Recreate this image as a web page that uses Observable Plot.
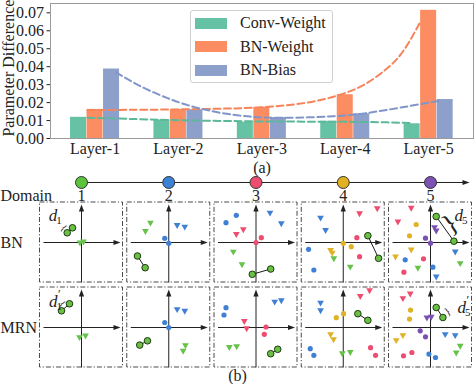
<!DOCTYPE html>
<html><head><meta charset="utf-8">
<script src="https://cdn.jsdelivr.net/npm/d3@7"></script>
<script src="https://cdn.jsdelivr.net/npm/@observablehq/plot@0.6"></script>
<style>
html,body{margin:0;padding:0;background:#fff;}
#wrap{position:relative;width:474px;height:384px;overflow:hidden;background:#fff;font-family:"Liberation Serif","Times New Roman",serif;}
#wrap svg{display:block;}
#wrap svg, #wrap svg text{font-family:"Liberation Serif","Times New Roman",serif !important;}
.legend{position:absolute;left:190px;top:10px;width:141px;height:71px;border:1px solid #d0d0d0;border-radius:3px;background:rgba(255,255,255,0.85);}
.legend .row{position:absolute;left:4px;height:16px;display:flex;align-items:center;font-size:16px;color:#222;white-space:nowrap;}
.legend .sw{width:32px;height:11px;margin-right:13px;}
</style></head><body><div id="wrap"></div>
<script>
const FONT = '"Liberation Serif","Times New Roman",serif';

// ---------------- (a) data ----------------
const layers = ["Layer-1","Layer-2","Layer-3","Layer-4","Layer-5"];
const series = ["Conv-Weight","BN-Weight","BN-Bias"];
const seriesColors = ["#66c2a5","#fc8d62","#8da0cb"];
const trendColors = ["#5cb898","#f5845a","#8295c8"];
const convWeight = [0.0118,0.0103,0.0090,0.0096,0.0082];
const bnWeight   = [0.0162,0.0162,0.0174,0.0244,0.0714];
const bnBias     = [0.0387,0.0160,0.0117,0.0138,0.0217];
const yTicks = [0,0.01,0.02,0.03,0.04,0.05,0.06,0.07];
const yLabel = "Parameter Difference";
// dashed trend curves: [layer position, value]
const convTrend = [[-0.09,0.0116],[0.5,0.0108],[1,0.0102],[1.5,0.0098],[2,0.0095],[2.5,0.0094],[3,0.0093],[3.5,0.0090],[3.78,0.0086]];
const bnWeightTrend = [[-0.09,0.0158],[0.5,0.0160],[1,0.0162],[1.5,0.0166],[2,0.0174],[2.5,0.0197],[2.86,0.0233],[3.2,0.0293],[3.5,0.0390],[3.7,0.0490],[3.89,0.0640]];
const bnBiasTrend = [[0.25,0.0369],[0.58,0.0283],[0.87,0.0225],[1.11,0.0186],[1.47,0.0146],[1.86,0.0122],[2.26,0.0115],[2.86,0.0124],[3.26,0.0142],[3.66,0.0172],[4.15,0.0212]];

// ---------------- (b) data ----------------
const domains = [1,2,3,4,5];
const domainColors = ["#5cc43c","#3b82d6","#ef4d6f","#e2b122","#7d52b5"];
const rowNames = ["BN","MRN"];
const rowY = [0,-1];
const pointColors = {g:"#66c24a", b:"#3f80d4", p:"#ee4c70", y:"#e0b225", v:"#7b50b3"};
// [panel, colour, shape (c circle / t triangle), dx, dy] (offsets inside a panel)
const bnPoints = [
 [1,"g","t",-1.5,0],[1,"g","t",2,1],
 [2,"g","t",-18.3,19.8],[2,"g","t",-23.3,11.5],[2,"b","t",8.4,17.5],[2,"b","t",16,15.8],[2,"b","c",-4,4.2],[2,"b","c",0,-0.8],
 [3,"b","c",-30,19.8],[3,"b","c",-19.7,27.2],[3,"p","t",-19.7,8.5],[3,"p","t",-12.7,13.2],[3,"b","t",14,29.8],[3,"b","t",25.3,19.2],[3,"p","c",5.3,4.8],[3,"p","c",0,0],[3,"g","t",-22.7,-9.2],[3,"g","t",-14,-21.8],
 [4,"b","t",-22.7,24.8],[4,"b","t",-17.7,12.5],[4,"p","t",16.3,29.2],[4,"p","t",34,34.2],[4,"p","c",13.6,4.8],[4,"p","c",16.3,-14.2],[4,"y","c",0,-0.8],[4,"y","c",8,-4.2],[4,"b","c",-34.7,-6.8],[4,"b","c",-29.4,-27.5],[4,"y","t",-12.7,-7.5],[4,"y","t",-11,-10.2],[4,"g","t",-9.4,-15.8],[4,"g","t",7,-24.2],
 [5,"p","t",-19.3,34.7],[5,"p","t",-32.6,21],[5,"y","c",-14.3,18],[5,"y","c",-21,6.7],[5,"v","t",4,15.3],[5,"v","t",5.7,12],[5,"v","c",-5,4.3],[5,"v","c",0,-0.7],[5,"y","t",-35,-14],[5,"y","t",-19.3,-7],[5,"b","c",-25.3,-17.3],[5,"b","c",2.4,-24.7],[5,"p","c",-7,-16.3],[5,"p","c",-26.6,-29.7],[5,"g","t",-12.6,-25.3],[5,"g","t",29.7,-20.7],[5,"b","t",24.7,-9],[5,"b","t",5.7,-34]
];
const mrnPoints = [
 [1,"g","t",-2,-9.7],[1,"g","t",4,-8],
 [2,"b","t",8.4,18.4],[2,"b","t",16,16.7],[2,"b","c",-4,5],[2,"b","c",0,0],[2,"g","t",16.7,-17.6],[2,"g","t",14.4,-23.3],
 [3,"b","c",-30,19.8],[3,"b","c",-32,12.5],[3,"b","t",18.7,25.8],[3,"b","t",25.3,27.2],[3,"p","t",-11.7,6.5],[3,"p","t",-9.3,-0.8],[3,"p","c",10,0.5],[3,"p","c",8.3,-6.8],[3,"g","t",-26.7,-19.5],[3,"g","t",-19.3,-18.8],
 [4,"p","t",17,31.5],[4,"p","t",26.3,37.2],[4,"b","t",-22.7,24.8],[4,"b","t",-22.7,17.2],[4,"y","c",-7,9.8],[4,"y","c",0.3,13.8],[4,"y","t",-12.7,-6.8],[4,"y","t",-9.7,-11.8],[4,"b","c",-33,-21.2],[4,"b","c",-29.4,-27.8],[4,"g","t",-1,-25.8],[4,"g","t",7,-24.5],[4,"p","c",27.3,-20.2],[4,"p","c",32.3,-27.8],
 [5,"p","t",-27.6,29.4],[5,"p","t",-20.3,34],[5,"y","c",-20,17.4],[5,"y","c",-21,8.4],[5,"v","t",-3.6,10],[5,"v","t",0.7,10.7],[5,"v","c",-10.3,-3.3],[5,"v","c",-5,-9.3],[5,"y","t",-34.3,-12.6],[5,"y","t",-27.6,-7.6],[5,"b","t",14.7,-6.6],[5,"b","t",24.7,-7.6],[5,"p","c",-27,-28.3],[5,"p","c",-18.6,-25],[5,"b","c",-1.6,-26.6],[5,"b","c",5,-30],[5,"g","t",29.7,-18.3],[5,"g","t",25.7,-25]
];
// green pairs: [panel, row, dx1, dy1, dx2, dy2]
const pairs = [
 [1,0,-14.3,9.7,-9,14.7],[1,1,-20,16.7,-12,23.7],
 [2,0,-31.3,-13.5,-23.6,-25.2],[2,1,-29,-17.6,-21.3,-13.3],
 [3,0,-3.7,-31.8,14.7,-26.5],[3,1,14.7,-26.2,21.7,-21.8],
 [4,0,24.6,6.8,35.3,-15.8],[4,1,14.6,13.8,24.6,7.2],
 [5,0,5.7,26,23.4,1.3],[5,1,5.7,20,12.4,10]
];
// distance labels: [panel, row, dx, dy, subscript, prime]
const dLabels = [[1,0,-28.5,27.3,"1",false],[1,1,-28.2,26.2,"1",true],[5,0,28.2,27,"5",false],[5,1,31.2,20,"5",true]];
// braces: [panel,row,dx,dy,char,rotate,size]
const braces = [[1,0,-17.5,14.5,"{",45,10],[1,1,-19,23.5,"{",45,10],[5,0,19.5,18.5,"}",-35,27],[5,1,17,16,"}",-34,11]];

// ---------------- chart (a) ----------------
const seriesValues = [convWeight,bnWeight,bnBias];
const bars = [];
seriesValues.forEach((vals,s)=>vals.forEach((v,i)=>bars.push({layer:i,s,series:series[s],v})));
const BW = 0.192, OFF = 0.198;
const trends = [convTrend,bnWeightTrend,bnBiasTrend];

const chartA = Plot.plot({
  width:474, height:170, marginTop:3, marginBottom:32, marginLeft:50, marginRight:1,
  style:{fontFamily:FONT, fontSize:"16px", color:"#222", background:"transparent", overflow:"visible"},
  x:{domain:[-0.534,4.538]},
  y:{domain:[0,0.0752]},
  color:{domain:series, range:seriesColors},
  marks:[
    Plot.rect(bars,{x1:d=>d.layer+(d.s-1)*OFF-BW/2, x2:d=>d.layer+(d.s-1)*OFF+BW/2, y1:0, y2:"v", fill:"series"}),
    ...trends.map((t,k)=>Plot.line(t,{x:d=>d[0], y:d=>d[1], stroke:trendColors[k], strokeWidth:2, strokeDasharray:"7,3.5", curve:"natural"})),
    Plot.frame({stroke:"#9a9a9a"}),
    Plot.axisY({ticks:yTicks, tickFormat:d=>d.toFixed(2), tickSize:3.5, tickPadding:3, label:null, fontSize:16, fontFamily:FONT, fontVariant:"normal"}),
    Plot.axisX({ticks:[0,1,2,3,4], tickFormat:i=>layers[i], tickSize:0, tickPadding:4, label:null, fontSize:16, fontFamily:FONT}),
    Plot.text([yLabel],{x:-1.038, y:0.0392, rotate:-90, fontSize:16, fontFamily:FONT, fill:"#222"}),
    Plot.text(["(a)"],{frameAnchor:"bottom", lineAnchor:"middle", dy:29, fontSize:16, fontFamily:FONT, fill:"#222"})
  ]
});

// ---------------- chart (b) ----------------
const UX = 1/87.25, UY = 1/85;
const X = (k,dx)=>k+dx*UX;
const Y = (r,dy)=>r+dy*UY;
const TL = 0.706, LBL = 0.545;
const arrowRight = {draw(ctx){ctx.moveTo(0,0);ctx.lineTo(-7,-2.6);ctx.lineTo(-7,2.6);ctx.closePath();}};
const arrowUp = {draw(ctx){ctx.moveTo(0,0);ctx.lineTo(-2.6,7);ctx.lineTo(2.6,7);ctx.closePath();}};
const triDown = {draw(ctx,size){const R=Math.sqrt(size/(3*Math.sqrt(3)/4));ctx.moveTo(0,R);ctx.lineTo(R*Math.sqrt(3)/2,-R/2);ctx.lineTo(-R*Math.sqrt(3)/2,-R/2);ctx.closePath();}};

const frames = [];
rowY.forEach(r=>domains.forEach(k=>frames.push({k,r})));
const pts = [...bnPoints.map(p=>({k:p[0],r:0,c:p[1],s:p[2],dx:p[3],dy:p[4]})),
             ...mrnPoints.map(p=>({k:p[0],r:-1,c:p[1],s:p[2],dx:p[3],dy:p[4]}))];
const pairEnds = pairs.flatMap(p=>[{k:p[0],r:rowY[p[1]],dx:p[2],dy:p[3]},{k:p[0],r:rowY[p[1]],dx:p[4],dy:p[5]}]);
const px = d=>X(d.k,d.dx), py = d=>Y(d.r,d.dy);

const chartB = Plot.plot({
  width:474, height:214, margin:0,
  style:{fontFamily:FONT, fontSize:"16px", color:"#222", background:"transparent", overflow:"visible"},
  x:{domain:[0.0716,5.5043], axis:null},
  y:{domain:[-1.6706,0.8471], axis:null},
  marks:[
    Plot.rect(frames,{x1:d=>X(d.k,-41.5), x2:d=>X(d.k,41.5), y1:d=>Y(d.r,-40), y2:d=>Y(d.r,40), fill:"none", stroke:"#4a4a4a", strokeWidth:1, strokeDasharray:"5,2,1.2,2"}),
    Plot.link(frames,{x1:d=>X(d.k,-38), x2:d=>X(d.k,35), y1:d=>d.r, y2:d=>d.r, stroke:"#222", strokeWidth:1}),
    Plot.dot(frames,{x:d=>X(d.k,39), y:d=>d.r, symbol:arrowRight, fill:"#222", stroke:"none"}),
    Plot.link(frames,{x1:d=>d.k, x2:d=>d.k, y1:d=>Y(d.r,-40), y2:d=>Y(d.r,34), stroke:"#222", strokeWidth:1}),
    Plot.dot(frames,{x:d=>d.k, y:d=>Y(d.r,38), symbol:arrowUp, fill:"#222", stroke:"none"}),
    // timeline
    Plot.link([0],{x1:domains[0], x2:5.41, y1:TL, y2:TL, stroke:"#222", strokeWidth:1}),
    Plot.dot([0],{x:5.447, y:TL, symbol:arrowRight, fill:"#222", stroke:"none"}),
    Plot.dot(domains,{x:d=>d, y:TL, r:6, fill:(d,i)=>domainColors[i], stroke:"#333", strokeWidth:1}),
    // points
    Plot.dot(pts.filter(d=>d.s==="c"),{x:px, y:py, r:2.6, fill:d=>pointColors[d.c], stroke:"none"}),
    Plot.dot(pts.filter(d=>d.s==="t"),{x:px, y:py, r:2.5, symbol:triDown, fill:d=>pointColors[d.c], stroke:"none"}),
    // pairs
    Plot.link(pairs,{x1:d=>X(d[0],d[2]), y1:d=>Y(rowY[d[1]],d[3]), x2:d=>X(d[0],d[4]), y2:d=>Y(rowY[d[1]],d[5]), stroke:"#1a1a1a", strokeWidth:1}),
    Plot.dot(pairEnds,{x:px, y:py, r:3.3, fill:"#6abf45", stroke:"#1d3a10", strokeWidth:1}),
    // braces
    Plot.text(braces,{x:d=>X(d[0],d[2]), y:d=>Y(rowY[d[1]],d[3]), text:d=>d[4], rotate:d=>d[5], fontSize:d=>d[6], fill:"#222"}),
    // labels
    Plot.text(["Domain"],{frameAnchor:"left", y:LBL, textAnchor:"start", fontSize:16, fill:"#222"}),
    Plot.text(domains,{x:d=>d, y:LBL, text:d=>String(d), fontSize:16, fill:"#222"}),
    Plot.text(rowNames,{frameAnchor:"left", y:(d,i)=>rowY[i], textAnchor:"start", fontSize:16, fill:"#222"}),
    Plot.text(dLabels,{x:d=>X(d[0],d[2]), y:d=>Y(rowY[d[1]],d[3]), text:()=>"d", fontSize:17, fontStyle:"italic", fill:"#222"}),
    Plot.text(dLabels,{x:d=>X(d[0],d[2]), y:d=>Y(rowY[d[1]],d[3]), text:d=>d[4], dx:6, dy:5, fontSize:11, fill:"#222"}),
    Plot.text(dLabels.filter(d=>d[5]),{x:d=>X(d[0],d[2]), y:d=>Y(rowY[d[1]],d[3]), text:()=>"\u2032", dx:6, dy:-7, fontSize:12, fill:"#222"}),
    Plot.text(["(b)"],{frameAnchor:"bottom", lineAnchor:"middle", dy:-8.5, fontSize:16, fill:"#222"})
  ]
});

const wrap = document.getElementById("wrap");
wrap.appendChild(chartA);
wrap.appendChild(chartB);
const leg = document.createElement("div");
leg.className = "legend";
series.forEach((s,i)=>{
  const row = document.createElement("div");
  row.className = "row";
  row.style.top = (4 + i*23.5) + "px";
  const sw = document.createElement("span");
  sw.className = "sw"; sw.style.background = seriesColors[i];
  row.appendChild(sw);
  row.appendChild(document.createTextNode(s));
  leg.appendChild(row);
});
wrap.appendChild(leg);
</script></body></html>
